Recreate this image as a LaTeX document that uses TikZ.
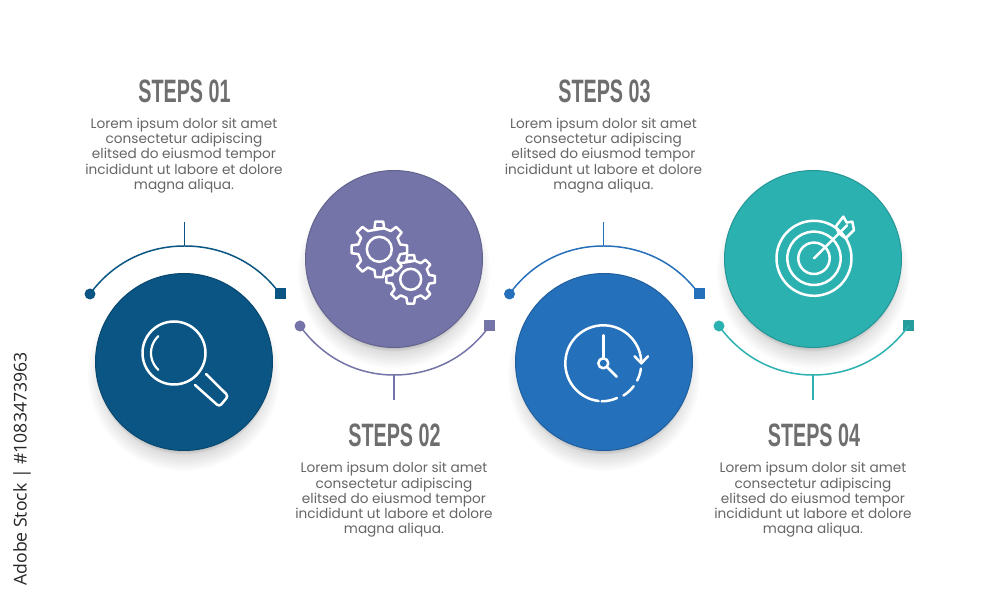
\documentclass[tikz,border=0pt]{standalone}
\usepackage{fontspec}
\setmainfont{Poppins}
\newfontfamily\titlefont[FakeStretch=0.61]{Liberation Sans}
\newfontfamily\sidefont{Open Sans}
\definecolor{stepnavy}{HTML}{0A5583}
\definecolor{steppurple}{HTML}{7474A8}
\definecolor{stepblue}{HTML}{2570BA}
\definecolor{stepteal}{HTML}{2CB1B1}
\definecolor{titlecol}{HTML}{6E6E6E}
\definecolor{bodycol}{HTML}{666666}
\tikzset{
  stepdisc/.style={circle,minimum size=177bp,inner sep=0pt,line width=1bp},
  stepdot/.style={circle,minimum size=11bp,inner sep=0pt},
  stepsq/.style={rectangle,minimum size=11bp,inner sep=0pt},
  steplink/.style={line width=1.5bp},
  iconline/.style={draw=white,line width=2.5bp,line cap=round,line join=round},
  steptitle/.style={text=titlecol,font=\titlefont\bfseries\fontsize{32.5}{34}\selectfont},
  stepbody/.style={text=bodycol,align=center,font=\fontsize{13.7}{15.3}\selectfont},
}
\newcommand{\softshadow}[2]{\foreach \r in {72,74,...,96}{\fill[black,opacity=.016] (#1,#2-13) circle (\r bp);}
  \foreach \r in {84,86,88}{\fill[black,opacity=.05] (#1,#2-4) circle (\r bp);}}
\newcommand{\gearicon}[5]{\draw[iconline,fill=#5] (#1,#2) ++(90-13:#4)
  \foreach \a in {90,45,0,-45,-90,-135,-180,-225}{ -- ([shift={(#1,#2)}]\a+13:#4) -- ([shift={(#1,#2)}]\a+8:#3) -- ([shift={(#1,#2)}]\a-8:#3) -- ([shift={(#1,#2)}]\a-13:#4)} -- cycle;}
\begin{document}
\begin{tikzpicture}[x=1bp,y=1bp,>=latex]
  \useasboundingbox (0,0) rectangle (1000,600);
  \fill[white] (0,0) rectangle (1000,600);
  % Shadows
  \softshadow{184}{238}
  \softshadow{394}{341}
  \softshadow{604}{238}
  \softshadow{813}{341}
  % Node: disc 1
  \node[stepdisc,fill=stepnavy,draw=stepnavy!85!black] (disc1) at (184,238) {};
  % Node: disc 2
  \node[stepdisc,fill=steppurple,draw=steppurple!85!black] (disc2) at (394,341) {};
  % Node: disc 3
  \node[stepdisc,fill=stepblue,draw=stepblue!85!black] (disc3) at (604,238) {};
  % Node: disc 4
  \node[stepdisc,fill=stepteal,draw=stepteal!85!black] (disc4) at (813,341) {};
  % Edge: dot 1 -> square 1
  \node[stepdot,fill=stepnavy] (dot1) at (90,306) {};
  \node[stepsq,fill=stepnavy] (sq1) at (280,306) {};
  \coordinate (top1) at (184.5,354);
  \coordinate (tip1) at (184.5,378);
  \draw[steplink,stepnavy] (dot1.center) to[out=54,in=180,looseness=.92] (top1) to[out=0,in=126,looseness=.92] (sq1.center);
  \draw[steplink,stepnavy] (tip1) -- (top1);
  % Edge: dot 2 -> square 2
  \node[stepdot,fill=steppurple] (dot2) at (300,274) {};
  \node[stepsq,fill=steppurple] (sq2) at (489.5,274) {};
  \coordinate (top2) at (394,225);
  \coordinate (tip2) at (394,200);
  \draw[steplink,steppurple] (dot2.center) to[out=-54,in=180,looseness=.92] (top2) to[out=0,in=-126,looseness=.92] (sq2.center);
  \draw[steplink,steppurple] (tip2) -- (top2);
  % Edge: dot 3 -> square 3
  \node[stepdot,fill=stepblue] (dot3) at (509.5,306) {};
  \node[stepsq,fill=stepblue] (sq3) at (699,306) {};
  \coordinate (top3) at (603.5,354);
  \coordinate (tip3) at (603.5,378);
  \draw[steplink,stepblue] (dot3.center) to[out=54,in=180,looseness=.92] (top3) to[out=0,in=126,looseness=.92] (sq3.center);
  \draw[steplink,stepblue] (tip3) -- (top3);
  % Edge: dot 4 -> square 4
  \node[stepdot,fill=stepteal] (dot4) at (719,274) {};
  \node[stepsq,fill=stepteal!88!black] (sq4) at (908.5,274) {};
  \coordinate (top4) at (813,225);
  \coordinate (tip4) at (813,200);
  \draw[steplink,stepteal] (dot4.center) to[out=-54,in=180,looseness=.92] (top4) to[out=0,in=-126,looseness=.92] (sq4.center);
  \draw[steplink,stepteal] (tip4) -- (top4);
  % Icon: magnifier
  \begin{scope}[shift={(174,247)}]
    \draw[iconline] (0,0) circle (31.5bp);
    \draw[iconline,line width=2.2bp] (133:23bp) arc (133:227:23bp);
    \draw[iconline,rounded corners=3bp] (32,-21) -- (54.3,-43) -- (45.3,-53.7) -- (21,-32);
  \end{scope}
  % Icon: gears
  \gearicon{410.7}{320.7}{24.5bp}{19bp}{steppurple}
  \draw[iconline] (410.7,320.7) circle (10.5bp);
  \gearicon{379.3}{350.7}{28bp}{21.5bp}{steppurple}
  \draw[iconline] (379.3,350.7) circle (12.5bp);
  % Icon: clock
  \begin{scope}[shift={(603.3,236.7)}]
    \draw[iconline] (-97:38bp) arc (-97:-360:38bp);
    \draw[iconline] (38,0) ++(-6.7,7) -- (38,0) -- (44.7,7);
    \draw[iconline] (-90:38bp) ++(-1.7,0) arc (-90:-66:38bp);
    \draw[iconline] (-58:38bp) arc (-58:-37:38bp);
    \draw[iconline] (-27:38bp) arc (-27:-8:38bp);
    \draw[iconline] (0,0) circle (5bp);
    \draw[iconline] (0,5) -- (0,28);
    \draw[iconline] (3.7,-3.7) -- (13.5,-13.5);
  \end{scope}
  % Icon: target
  \begin{scope}[shift={(814,341.7)}]
    \draw[iconline] (58:37.5bp) arc (58:-340:37.5bp);
    \draw[iconline] (60:26.7bp) arc (60:-345:26.7bp);
    \draw[iconline] (65:15.7bp) arc (65:-360:15.7bp);
    \draw[iconline] (0,0) -- (33,33);
    \draw[iconline] (25,25) -- (21.7,31.7) -- (29.3,41.7) -- (32.7,35.7) -- (38.3,36.7) -- (40,28.3) -- (31.7,20) -- cycle;
  \end{scope}
  % Labels
  \node[steptitle] (title1) at (184.5,509) {STEPS 01};
  \node[stepbody] (body1) at (184,444.5) {Lorem ipsum dolor sit amet\\consectetur adipiscing\\elitsed do eiusmod tempor\\incididunt ut labore et dolore\\magna aliqua.};
  \node[steptitle] (title2) at (394.5,165) {STEPS 02};
  \node[stepbody] (body2) at (394,100) {Lorem ipsum dolor sit amet\\consectetur adipiscing\\elitsed do eiusmod tempor\\incididunt ut labore et dolore\\magna aliqua.};
  \node[steptitle] (title3) at (604.5,509) {STEPS 03};
  \node[stepbody] (body3) at (603.5,444.5) {Lorem ipsum dolor sit amet\\consectetur adipiscing\\elitsed do eiusmod tempor\\incididunt ut labore et dolore\\magna aliqua.};
  \node[steptitle] (title4) at (814,165) {STEPS 04};
  \node[stepbody] (body4) at (813,100) {Lorem ipsum dolor sit amet\\consectetur adipiscing\\elitsed do eiusmod tempor\\incididunt ut labore et dolore\\magna aliqua.};
  \node[rotate=90,text=black!85,font=\sidefont\fontsize{17.7}{20}\selectfont] (stock) at (22,131) {Adobe Stock | \#1083473963};
\end{tikzpicture}
\end{document}
